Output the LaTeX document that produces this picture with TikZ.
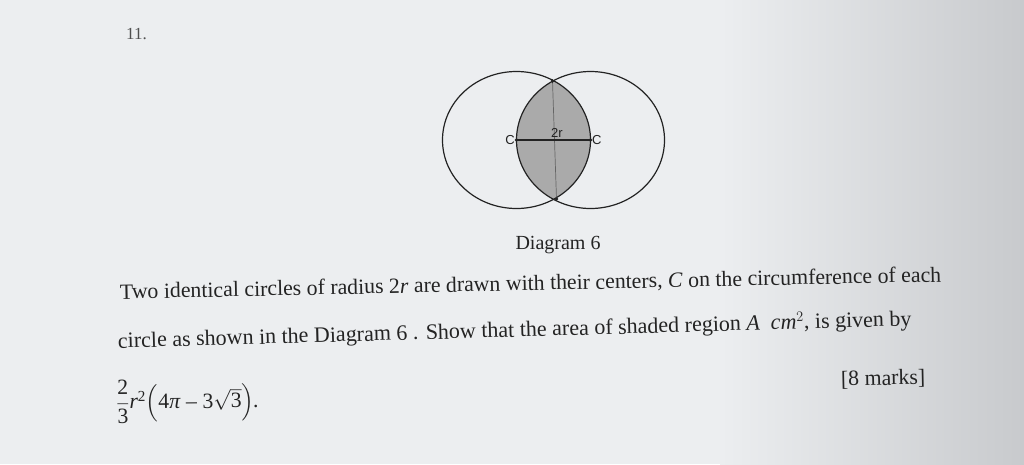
\documentclass[tikz,border=0pt]{standalone}
\usepackage{amsmath}
\usepackage{fontspec}
\setmainfont{Liberation Serif}
\newfontfamily\labelfont{Liberation Sans}
\definecolor{paper}{RGB}{236,238,240}
\definecolor{paperdark}{RGB}{200,202,205}
\definecolor{ink}{RGB}{35,35,35}
\definecolor{lens}{RGB}{170,170,170}
\newcommand{\tx}[1]{\text{#1}}
\tikzset{
  circ/.style={draw=ink, line width=1.2pt},
  lensfill/.style={fill=lens},
  ctr/.style={circle, fill=ink, inner sep=0pt, minimum size=3.6pt},
  lbl/.style={font=\labelfont\fontsize{13}{15}\selectfont, text=ink, inner sep=1.5pt},
  body/.style={font=\fontsize{21.8}{24}\selectfont, text=ink, inner sep=0pt, anchor=base west},
}
\begin{document}
\begin{tikzpicture}[x=1pt, y=-1pt]
\useasboundingbox (0,0) rectangle (1024,464);
\fill[paper] (0,0) rectangle (1024,464);
\shade[left color=paper, right color=paperdark] (720,0) rectangle (1024,464);
% geometry
\coordinate (C1) at (516.5,140);
\coordinate (C2) at (590.5,140);
\coordinate (P) at (552.5,81);
\coordinate (Q) at (556.5,199);
% shaded lens
\begin{scope}
  \clip (C1) ellipse [x radius=74, y radius=68.5];
  \fill[lensfill] (C2) ellipse [x radius=74, y radius=68.5];
\end{scope}
\draw[circ] (C1) ellipse [x radius=74, y radius=68.5];
\draw[circ] (C2) ellipse [x radius=74, y radius=68.5];
\draw[ink!70, line width=0.7pt] (P) -- (Q);
\draw[ink, line width=1.3pt] (C1) -- (C2);
\node[ctr] (c1dot) at (C1) {};
\node[ctr] (c2dot) at (C2) {};
\node[ctr] (pdot) at (P) {};
\node[ctr] (qdot) at (Q) {};
\node[lbl, anchor=east] (lc1) at (C1) {C};
\node[lbl, anchor=west] (lc2) at (C2) {C};
\node[lbl] (l2r) at (557,133) {2r};
% texts
\node[font=\fontsize{17}{19}\selectfont, text=ink!80, anchor=base west, inner sep=0pt] (num) at (126,39) {11.};
\node[font=\fontsize{20}{22}\selectfont, text=ink, inner sep=0pt] (cap) at (558,245) {Diagram 6};
\node[body, rotate=1.2] (line1) at (120,299) {Two identical circles of radius 2\textit{r} are drawn with their centers, \textit{C} on the circumference of each};
\node[body, font=\fontsize{22}{24}\selectfont, rotate=1.6] (line2) at (118,348) {circle as shown in the Diagram 6 . Show that the area of shaded region \textit{A\ \ cm}$^{2}$, is given by};
\node[body, rotate=0.6] (formula) at (116,409) {$\dfrac{\tx{2}}{\tx{3}}\tx{\itshape r}^{\tx{2}}\!\left(\tx{4\itshape π}\;\tx{–}\;\tx{3}\sqrt{\tx{3}}\right)\mkern-4mu\tx{.}$};
\node[body, rotate=1.2] (marks) at (841,386) {[8 marks]};
\end{tikzpicture}
\end{document}
